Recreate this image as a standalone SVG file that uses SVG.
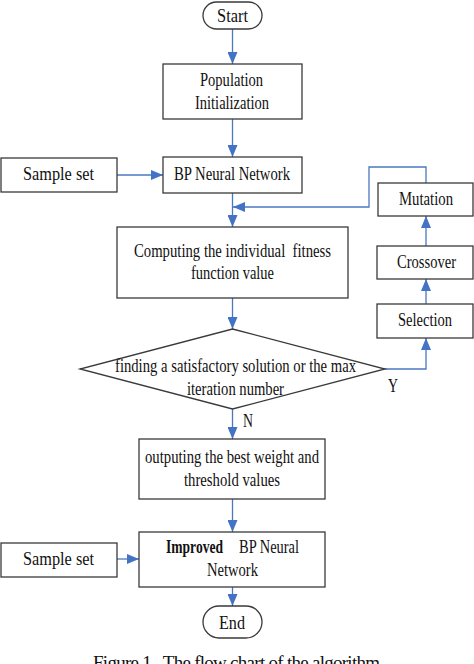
<svg xmlns="http://www.w3.org/2000/svg" width="474" height="664" viewBox="0 0 474 664">
<style>
.box{fill:#fff;stroke:#3a3a3a;stroke-width:1.3}
.t{font-family:"Liberation Serif","Times New Roman",serif;font-size:19px;fill:#111}
.c{fill:none;stroke:#4a78c0;stroke-width:1.3}
</style>
<defs>
<marker id="ah" markerUnits="userSpaceOnUse" markerWidth="12" markerHeight="10" refX="12" refY="5" orient="auto">
<path d="M0,0 L12,5 L0,10 z" fill="#4472c4"/>
</marker>
</defs>
<rect width="474" height="664" fill="#fff"/>
<g id="connectors">
<line class="c" x1="232.5" y1="29" x2="232.5" y2="64" marker-end="url(#ah)"/>
<line class="c" x1="232.5" y1="119" x2="232.5" y2="157" marker-end="url(#ah)"/>
<line class="c" x1="117" y1="175" x2="163" y2="175" marker-end="url(#ah)"/>
<line class="c" x1="232.5" y1="193" x2="232.5" y2="227" marker-end="url(#ah)"/>
<line class="c" x1="232.5" y1="298" x2="232.5" y2="329" marker-end="url(#ah)"/>
<polyline class="c" points="385,369 426,369 426,338" marker-end="url(#ah)"/>
<line class="c" x1="426" y1="304" x2="426" y2="279" marker-end="url(#ah)"/>
<line class="c" x1="426" y1="246" x2="426" y2="216" marker-end="url(#ah)"/>
<polyline class="c" points="426,183 426,167 369,167 369,207 233,207" marker-end="url(#ah)"/>
<line class="c" x1="232.5" y1="409" x2="232.5" y2="439" marker-end="url(#ah)"/>
<line class="c" x1="232.5" y1="499" x2="232.5" y2="532" marker-end="url(#ah)"/>
<line class="c" x1="117" y1="559" x2="139" y2="559" marker-end="url(#ah)"/>
<line class="c" x1="232.5" y1="587" x2="232.5" y2="606" marker-end="url(#ah)"/>
</g>
<g id="start">
<rect class="box" x="203" y="2" width="59" height="27" rx="13.5"/>
<text class="t" x="217" y="22" textLength="31" lengthAdjust="spacingAndGlyphs">Start</text>
</g>
<g id="population">
<rect class="box" x="163" y="64" width="139" height="55"/>
<text class="t" x="200" y="86" textLength="63" lengthAdjust="spacingAndGlyphs">Population</text>
<text class="t" x="195" y="109" textLength="74" lengthAdjust="spacingAndGlyphs">Initialization</text>
</g>
<g id="sample1">
<rect class="box" x="1" y="158" width="116" height="34"/>
<text class="t" x="23" y="180" textLength="71" lengthAdjust="spacingAndGlyphs">Sample set</text>
</g>
<g id="bp">
<rect class="box" x="163" y="157" width="139" height="36"/>
<text class="t" x="174" y="180" textLength="116" lengthAdjust="spacingAndGlyphs">BP Neural Network</text>
</g>
<g id="mutation">
<rect class="box" x="378" y="183" width="95" height="33"/>
<text class="t" x="399" y="205" textLength="54" lengthAdjust="spacingAndGlyphs">Mutation</text>
</g>
<g id="crossover">
<rect class="box" x="377" y="246" width="96" height="33"/>
<text class="t" x="397" y="268" textLength="59" lengthAdjust="spacingAndGlyphs">Crossover</text>
</g>
<g id="selection">
<rect class="box" x="377" y="304" width="96" height="34"/>
<text class="t" x="398" y="326" textLength="54" lengthAdjust="spacingAndGlyphs">Selection</text>
</g>
<g id="computing">
<rect class="box" x="117" y="227" width="231" height="71"/>
<text class="t" x="134" y="257" textLength="197" lengthAdjust="spacingAndGlyphs" xml:space="preserve">Computing the individual  fitness</text>
<text class="t" x="191" y="279" textLength="83" lengthAdjust="spacingAndGlyphs">function value</text>
</g>
<g id="decision">
<polygon class="box" points="232.5,329 385,369 232.5,409 80,369"/>
<text class="t" x="115" y="372" textLength="241" lengthAdjust="spacingAndGlyphs">finding a satisfactory solution or the max</text>
<text class="t" x="187" y="395" textLength="97" lengthAdjust="spacingAndGlyphs">iteration number</text>
<text class="t" x="388" y="392" textLength="10" lengthAdjust="spacingAndGlyphs">Y</text>
<text class="t" x="243" y="427" textLength="10" lengthAdjust="spacingAndGlyphs">N</text>
</g>
<g id="output">
<rect class="box" x="139" y="439" width="186" height="60"/>
<text class="t" x="145" y="463" textLength="174" lengthAdjust="spacingAndGlyphs">outputing the best weight and</text>
<text class="t" x="184" y="486" textLength="96" lengthAdjust="spacingAndGlyphs">threshold values</text>
</g>
<g id="sample2">
<rect class="box" x="1" y="543" width="116" height="34"/>
<text class="t" x="23" y="565" textLength="71" lengthAdjust="spacingAndGlyphs">Sample set</text>
</g>
<g id="improved">
<rect class="box" x="139" y="532" width="186" height="55"/>
<text class="t" y="553"><tspan x="166" font-weight="bold" textLength="57" lengthAdjust="spacingAndGlyphs">Improved</tspan> <tspan x="239" textLength="60" lengthAdjust="spacingAndGlyphs">BP Neural</tspan></text>
<text class="t" x="207" y="576" textLength="51" lengthAdjust="spacingAndGlyphs">Network</text>
</g>
<g id="end">
<rect class="box" x="203" y="606" width="59" height="32" rx="16"/>
<text class="t" x="219" y="629" textLength="26" lengthAdjust="spacingAndGlyphs">End</text>
</g>
<text class="t" x="93" y="669" font-size="17" textLength="287" lengthAdjust="spacing" xml:space="preserve">Figure 1   The flow chart of the algorithm</text>
</svg>
